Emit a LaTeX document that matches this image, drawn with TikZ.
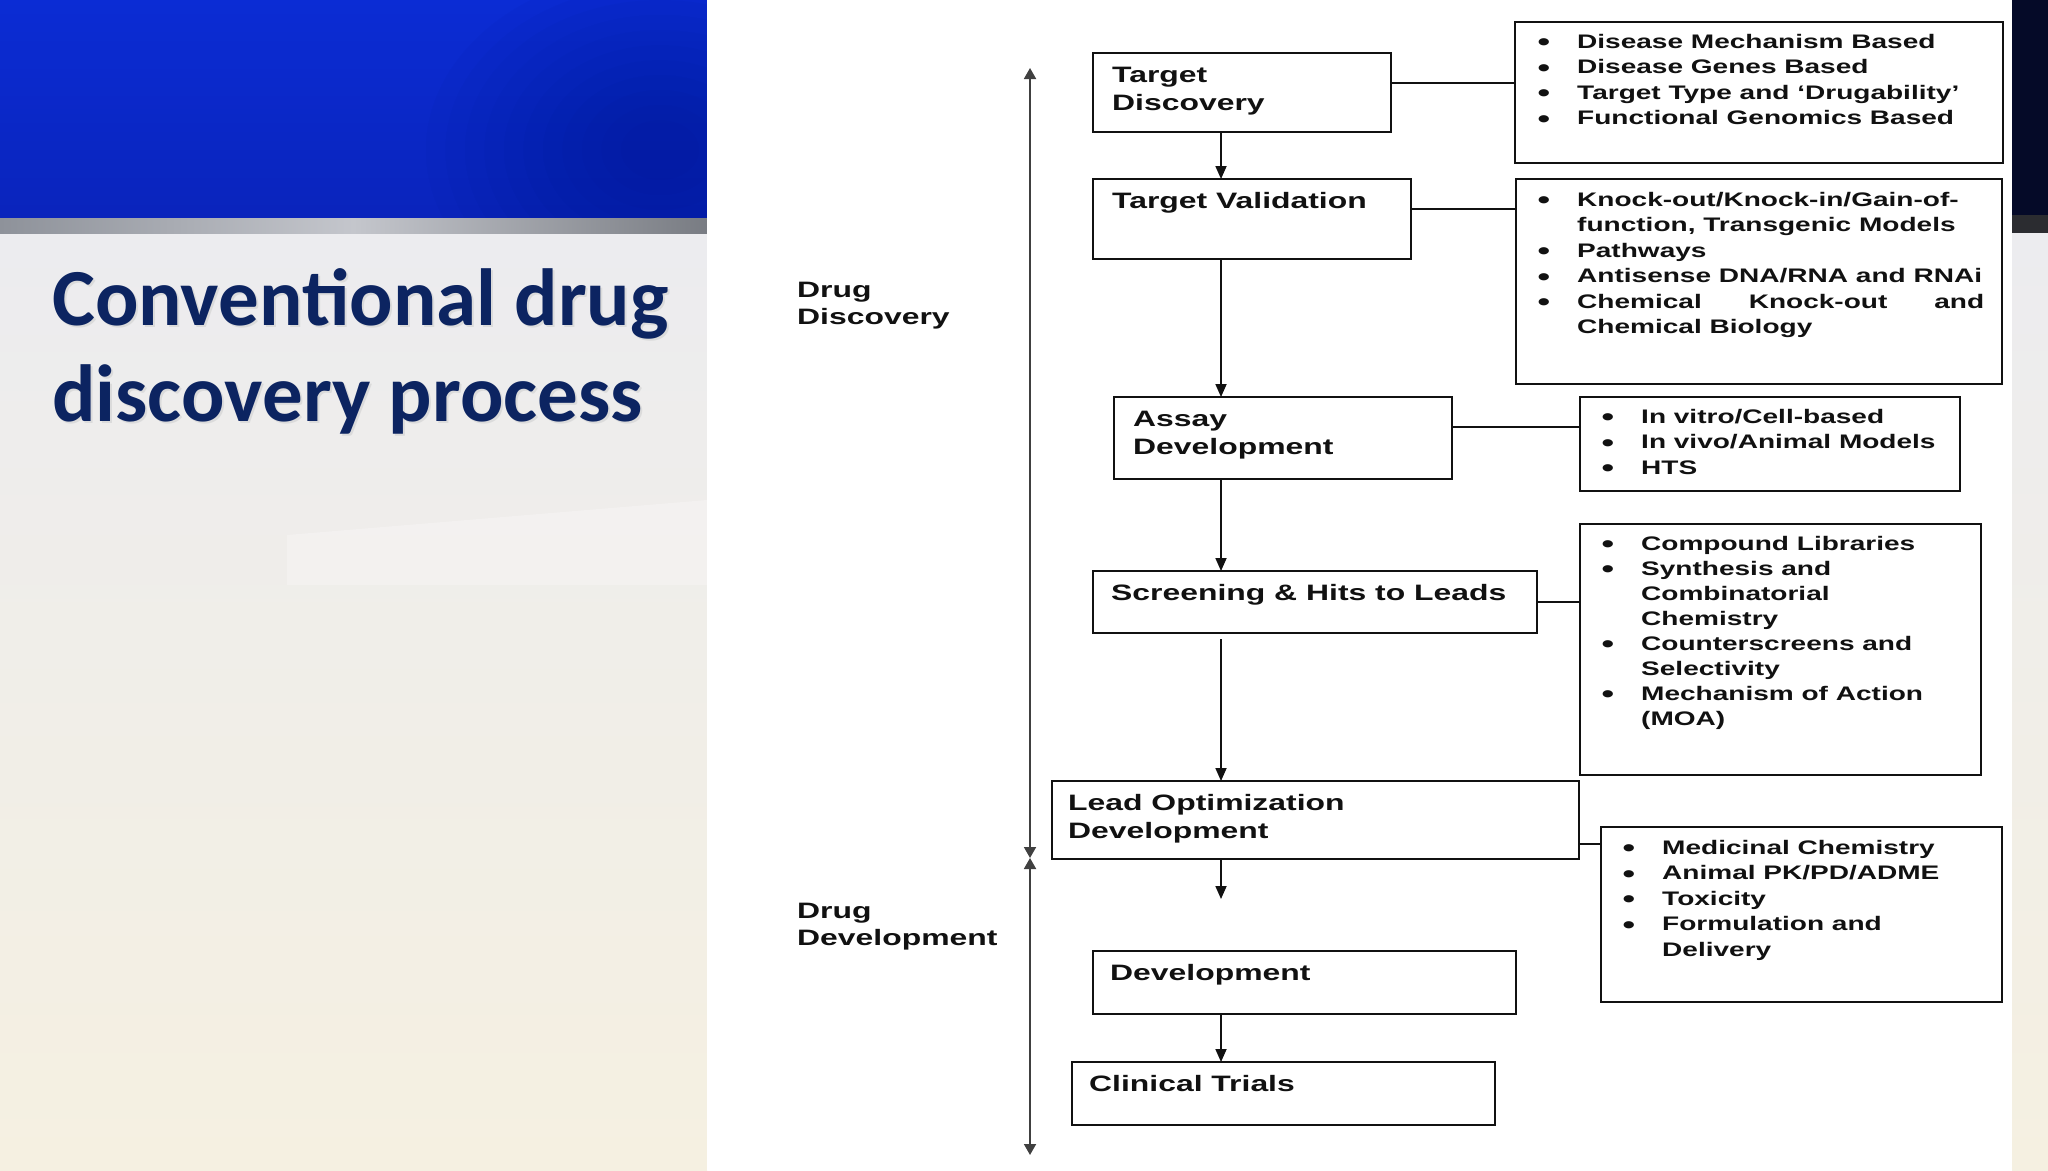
\documentclass[tikz,border=0pt]{standalone}
\usepackage{fontspec}
\usetikzlibrary{arrows.meta}
\newfontfamily\dfont[FakeStretch=1.43]{Liberation Sans}
\newfontfamily\tfont{Carlito}
\definecolor{titlecol}{HTML}{0C2461}
\definecolor{hdrtop}{HTML}{0B2CD4}
\definecolor{hdrbot}{HTML}{0A24BC}
\definecolor{hdrdark}{HTML}{03107A}
\definecolor{bandgrey}{HTML}{8E929A}
\definecolor{bandlight}{HTML}{C4C6CC}
\definecolor{panetop}{HTML}{ECECEF}
\definecolor{panebot}{HTML}{F5F0E1}
\definecolor{stripnavy}{HTML}{050A28}
\definecolor{stripband}{HTML}{2B2C30}
\definecolor{inkcol}{HTML}{111111}
\newcommand\bul{\llap{\raisebox{-2.5pt}{\fontsize{25}{25}\selectfont\textbullet}\hspace{27pt}}}
\begin{document}
\begin{tikzpicture}[x=1pt,y=-1pt,
  box/.style={draw=inkcol, line width=2.2pt, inner sep=0pt, outer sep=0pt, anchor=north west},
  ttl/.style={anchor=base west, inner sep=0pt, align=left, text=inkcol,
    font=\dfont\bfseries\fontsize{22.3}{28}\selectfont},
  lbl/.style={anchor=base west, inner sep=0pt, align=left, text=inkcol,
    font=\dfont\bfseries\fontsize{22.3}{27}\selectfont},
  itm/.style={anchor=base west, inner sep=0pt, align=left, text=inkcol,
    font=\dfont\bfseries\fontsize{19.6}{25.5}\selectfont},
  flow/.style={draw=inkcol, line width=1.8pt, -{Triangle[length=13pt,width=11pt]}},
  link/.style={draw=inkcol, line width=1.8pt},
  axis/.style={draw=black!75, line width=1.8pt, {Triangle[length=11pt,width=12pt]}-{Triangle[length=11pt,width=12pt]}},
]
\useasboundingbox (0,0) rectangle (2048,1170);
% ---------- left panel background ----------
\shade[top color=hdrtop, bottom color=hdrbot] (0,0) rectangle (707,218);
\begin{scope}
  \clip (0,0) rectangle (707,218);
  \foreach \r in {30,45,...,190} {\fill[hdrdark, opacity=0.04] (660,150) ellipse ({1.3*\r} and \r);}
\end{scope}
\shade[left color=bandgrey, right color=bandgrey!85!black, middle color=bandlight] (0,218) rectangle (707,234);
\shade[top color=panetop, bottom color=panebot] (0,234) rectangle (707,1170);
\fill[white, opacity=0.25] (287,535) -- (707,500) -- (707,585) -- (287,585) -- cycle;
% ---------- right strip ----------
\fill[stripnavy] (2012,0) rectangle (2048,215);
\fill[stripband] (2012,215) rectangle (2048,233);
\shade[top color=panetop, bottom color=panebot] (2012,233) rectangle (2048,1170);
% ---------- white panel ----------
\fill[white] (707,0) rectangle (2012,1170);
% ---------- title (base = last line) ----------
\node[anchor=base west, inner sep=0pt, align=left, text=black!14,
  font=\tfont\bfseries\fontsize{81}{96}\selectfont] (titleshadow) at (54,423) {Conventional drug\\discovery process};
\node[anchor=base west, inner sep=0pt, align=left, text=titlecol,
  font=\tfont\bfseries\fontsize{81}{96}\selectfont] (title) at (52,421) {Conventional drug\\discovery process};
% ---------- left column boxes ----------
\node[box, minimum width=298pt, minimum height=79pt] (TD) at (1093,53) {};
\node[box, minimum width=318pt, minimum height=80pt] (TV) at (1093,179) {};
\node[box, minimum width=338pt, minimum height=82pt] (AD) at (1114,397) {};
\node[box, minimum width=444pt, minimum height=62pt] (SHL) at (1093,571) {};
\node[box, minimum width=527pt, minimum height=78pt] (LOD) at (1052,781) {};
\node[box, minimum width=423pt, minimum height=63pt] (DEV) at (1093,951) {};
\node[box, minimum width=423pt, minimum height=63pt] (CT) at (1072,1062) {};
% text nodes: anchor = baseline of the last line
\node[ttl] (TDt) at (1112,110) {Target\\Discovery};
\node[ttl] (TVt) at (1112,208) {Target Validation};
\node[ttl] (ADt) at (1133,454) {Assay\\Development};
\node[ttl] (SHLt) at (1111,600) {Screening \& Hits to Leads};
\node[ttl] (LODt) at (1068,838) {Lead Optimization\\Development};
\node[ttl] (DEVt) at (1110,980) {Development};
\node[ttl] (CTt) at (1089,1091) {Clinical Trials};
% ---------- right column boxes ----------
\node[box, minimum width=488pt, minimum height=141pt] (R1) at (1515,22) {};
\node[box, minimum width=486pt, minimum height=205pt] (R2) at (1516,179) {};
\node[box, minimum width=380pt, minimum height=94pt] (R3) at (1580,397) {};
\node[box, minimum width=401pt, minimum height=251pt] (R4) at (1580,524) {};
\node[box, minimum width=401pt, minimum height=175pt] (R5) at (1601,827) {};
\node[itm] (R1t) at (1577,124.5) {\bul Disease Mechanism Based\\\bul Disease Genes Based\\\bul Target Type and ‘Drugability’\\\bul Functional Genomics Based};
\node[itm] (R2t) at (1577,333.5) {\bul Knock-out/Knock-in/Gain-of-\\function, Transgenic Models\\\bul Pathways\\\bul Antisense DNA/RNA and RNAi\\\bul \makebox[407pt][s]{Chemical\hfill Knock-out\hfill and}\\Chemical Biology};
\node[itm] (R3t) at (1641,474) {\bul In vitro/Cell-based\\\bul In vivo/Animal Models\\\bul HTS};
\node[itm, font=\dfont\bfseries\fontsize{19.6}{25}\selectfont] (R4t) at (1641,725) {\bul Compound Libraries\\\bul Synthesis and\\Combinatorial\\Chemistry\\\bul Counterscreens and\\Selectivity\\\bul Mechanism of Action\\(MOA)};
\node[itm] (R5t) at (1662,956) {\bul Medicinal Chemistry\\\bul Animal PK/PD/ADME\\\bul Toxicity\\\bul Formulation and\\Delivery};
% ---------- side labels ----------
\node[lbl] (DD) at (797,324) {Drug\\Discovery};
\node[lbl] (DDev) at (797,945) {Drug\\Development};
% ---------- axis ----------
\coordinate (axtop) at (1030,68);
\coordinate (axmid) at (1030,858);
\coordinate (axbot) at (1030,1155);
\draw[axis] (axtop) -- (axmid);
\draw[axis] (axmid) -- (axbot);
% ---------- flow arrows ----------
\draw[flow] (TD.south -| 1221,0) -- (TV.north -| 1221,0);
\draw[flow] (TV.south -| 1221,0) -- (AD.north -| 1221,0);
\draw[flow] (AD.south -| 1221,0) -- (SHL.north -| 1221,0);
\draw[flow] ([yshift=-6pt]SHL.south -| 1221,0) -- (LOD.north -| 1221,0);
\coordinate (LODend) at (1221,899);
\draw[flow] (LOD.south -| 1221,0) -- (LODend);
\draw[flow] (DEV.south -| 1221,0) -- (CT.north -| 1221,0);
% ---------- links ----------
\draw[link] (TD.east |- 0,83) -- (R1.west |- 0,83);
\draw[link] (TV.east |- 0,209) -- (R2.west |- 0,209);
\draw[link] (AD.east |- 0,427) -- (R3.west |- 0,427);
\draw[link] (SHL.east |- 0,602) -- (R4.west |- 0,602);
\draw[link] (LOD.east |- 0,844) -- (R5.west |- 0,844);
\end{tikzpicture}
\end{document}
